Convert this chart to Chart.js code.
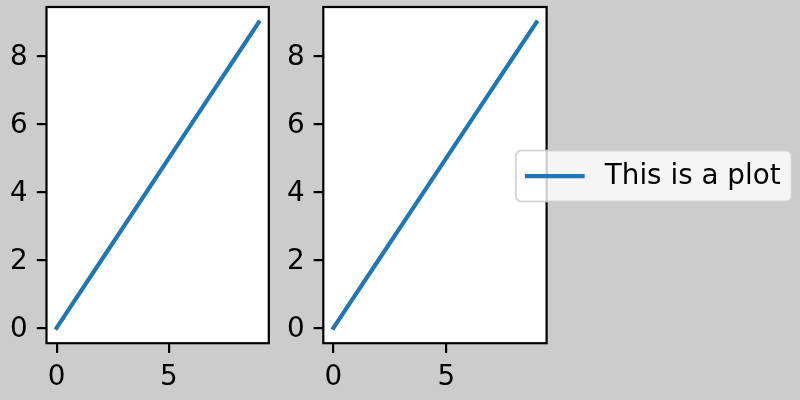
<!DOCTYPE html>
<html><head><meta charset="utf-8">
<script src="https://cdn.jsdelivr.net/npm/chart.js@4"></script>
<style>
html,body{margin:0;padding:0;background:#cccccc;width:800px;height:400px;overflow:hidden}
canvas{position:absolute;left:0;top:0}
</style></head><body>
<canvas id="c1" width="800" height="400"></canvas>
<canvas id="c2" width="800" height="400"></canvas>
<script>
const xValues = [0, 1, 2, 3, 4, 5, 6, 7, 8, 9];
const yValues = [0, 1, 2, 3, 4, 5, 6, 7, 8, 9];
const xTicks = [0, 5];
const yTicks = [0, 2, 4, 6, 8];
const seriesLabel = 'This is a plot';
const xRange = [-0.45, 9.45];
const yRange = [-0.45, 9.45];

const FS = 27.8;
const FONT = {family: '"DejaVu Sans", sans-serif', size: FS};
const LINE_COLOR = '#1f77b4';

const axesBox = {
  id: 'axesBox',
  beforeDraw(chart) {
    const {ctx, chartArea: a} = chart;
    ctx.save();
    ctx.fillStyle = '#ffffff';
    ctx.fillRect(a.left, a.top, a.right - a.left, a.bottom - a.top);
    ctx.restore();
  },
  afterDatasetsDraw(chart) {
    const {ctx, chartArea: a} = chart;
    ctx.save();
    ctx.strokeStyle = '#000';
    ctx.lineWidth = 2.2;
    ctx.lineJoin = 'miter';
    ctx.strokeRect(a.left, a.top, a.right - a.left, a.bottom - a.top);
    ctx.restore();
  }
};

const outsideLegend = {
  id: 'outsideLegend',
  afterDraw(chart) {
    const {ctx, chartArea: a} = chart;
    const ds = chart.data.datasets[0];
    ctx.save();
    ctx.font = FS + 'px "DejaVu Sans"';
    const tw = ctx.measureText(ds.label).width;
    const bp = 0.4 * FS, hl = 2 * FS, htp = 0.8 * FS;
    const left = a.left + 0.8 * (a.right - a.left) + 0.5 * FS;
    const yc = (a.top + a.bottom) / 2 + 1;
    const w = bp + hl + htp + tw + bp;
    const h = 51;
    const top = yc - h / 2;
    ctx.beginPath();
    ctx.roundRect(left, top, w, h, 0.2 * FS);
    ctx.fillStyle = 'rgba(255,255,255,0.8)';
    ctx.fill();
    ctx.lineWidth = 2;
    ctx.strokeStyle = 'rgba(204,204,204,0.8)';
    ctx.stroke();
    ctx.beginPath();
    ctx.moveTo(left + bp, yc);
    ctx.lineTo(left + bp + hl, yc);
    ctx.lineWidth = 4.17;
    ctx.lineCap = 'square';
    ctx.strokeStyle = ds.borderColor;
    ctx.stroke();
    ctx.fillStyle = '#000';
    ctx.textBaseline = 'middle';
    ctx.textAlign = 'left';
    ctx.fillText(ds.label, left + bp + hl + htp, yc + 1);
    ctx.restore();
  }
};

function makeChart(id, padLeft, padRight, extraPlugins) {
  return new Chart(document.getElementById(id), {
    type: 'line',
    data: {
      datasets: [{
        label: seriesLabel,
        data: xValues.map((x, i) => ({x: x, y: yValues[i]})),
        borderColor: LINE_COLOR,
        borderWidth: 4.17,
        borderCapStyle: 'square',
        pointRadius: 0,
        tension: 0,
        fill: false
      }]
    },
    options: {
      responsive: false,
      animation: false,
      events: [],
      layout: {autoPadding: false, padding: {left: padLeft, right: padRight, top: 7, bottom: 0}},
      plugins: {legend: {display: false}, tooltip: {enabled: false}},
      scales: {
        x: {
          type: 'linear', min: xRange[0], max: xRange[1],
          afterBuildTicks: s => { s.ticks = xTicks.map(v => ({value: v})); },
          afterFit: s => { s.height = 56.8; s.paddingLeft = 0; s.paddingRight = 0; },
          ticks: {color: '#000', font: FONT, padding: 8, maxRotation: 0, autoSkip: false},
          grid: {drawOnChartArea: false, tickLength: 9.7, lineWidth: 2.2, color: '#000'},
          border: {display: false}
        },
        y: {
          type: 'linear', min: yRange[0], max: yRange[1],
          afterBuildTicks: s => { s.ticks = yTicks.map(v => ({value: v})); },
          afterFit: s => { s.width = 46.5; s.paddingTop = 0; s.paddingBottom = 0; },
          ticks: {color: '#000', font: FONT, padding: 9, labelOffset: 2, autoSkip: false},
          grid: {drawOnChartArea: false, tickLength: 9.7, lineWidth: 2.2, color: '#000'},
          border: {display: false}
        }
      }
    },
    plugins: [axesBox].concat(extraPlugins)
  });
}

makeChart('c1', 0, 531.2, []);
makeChart('c2', 276.8, 253.4, [outsideLegend]);
</script>
</body></html>
